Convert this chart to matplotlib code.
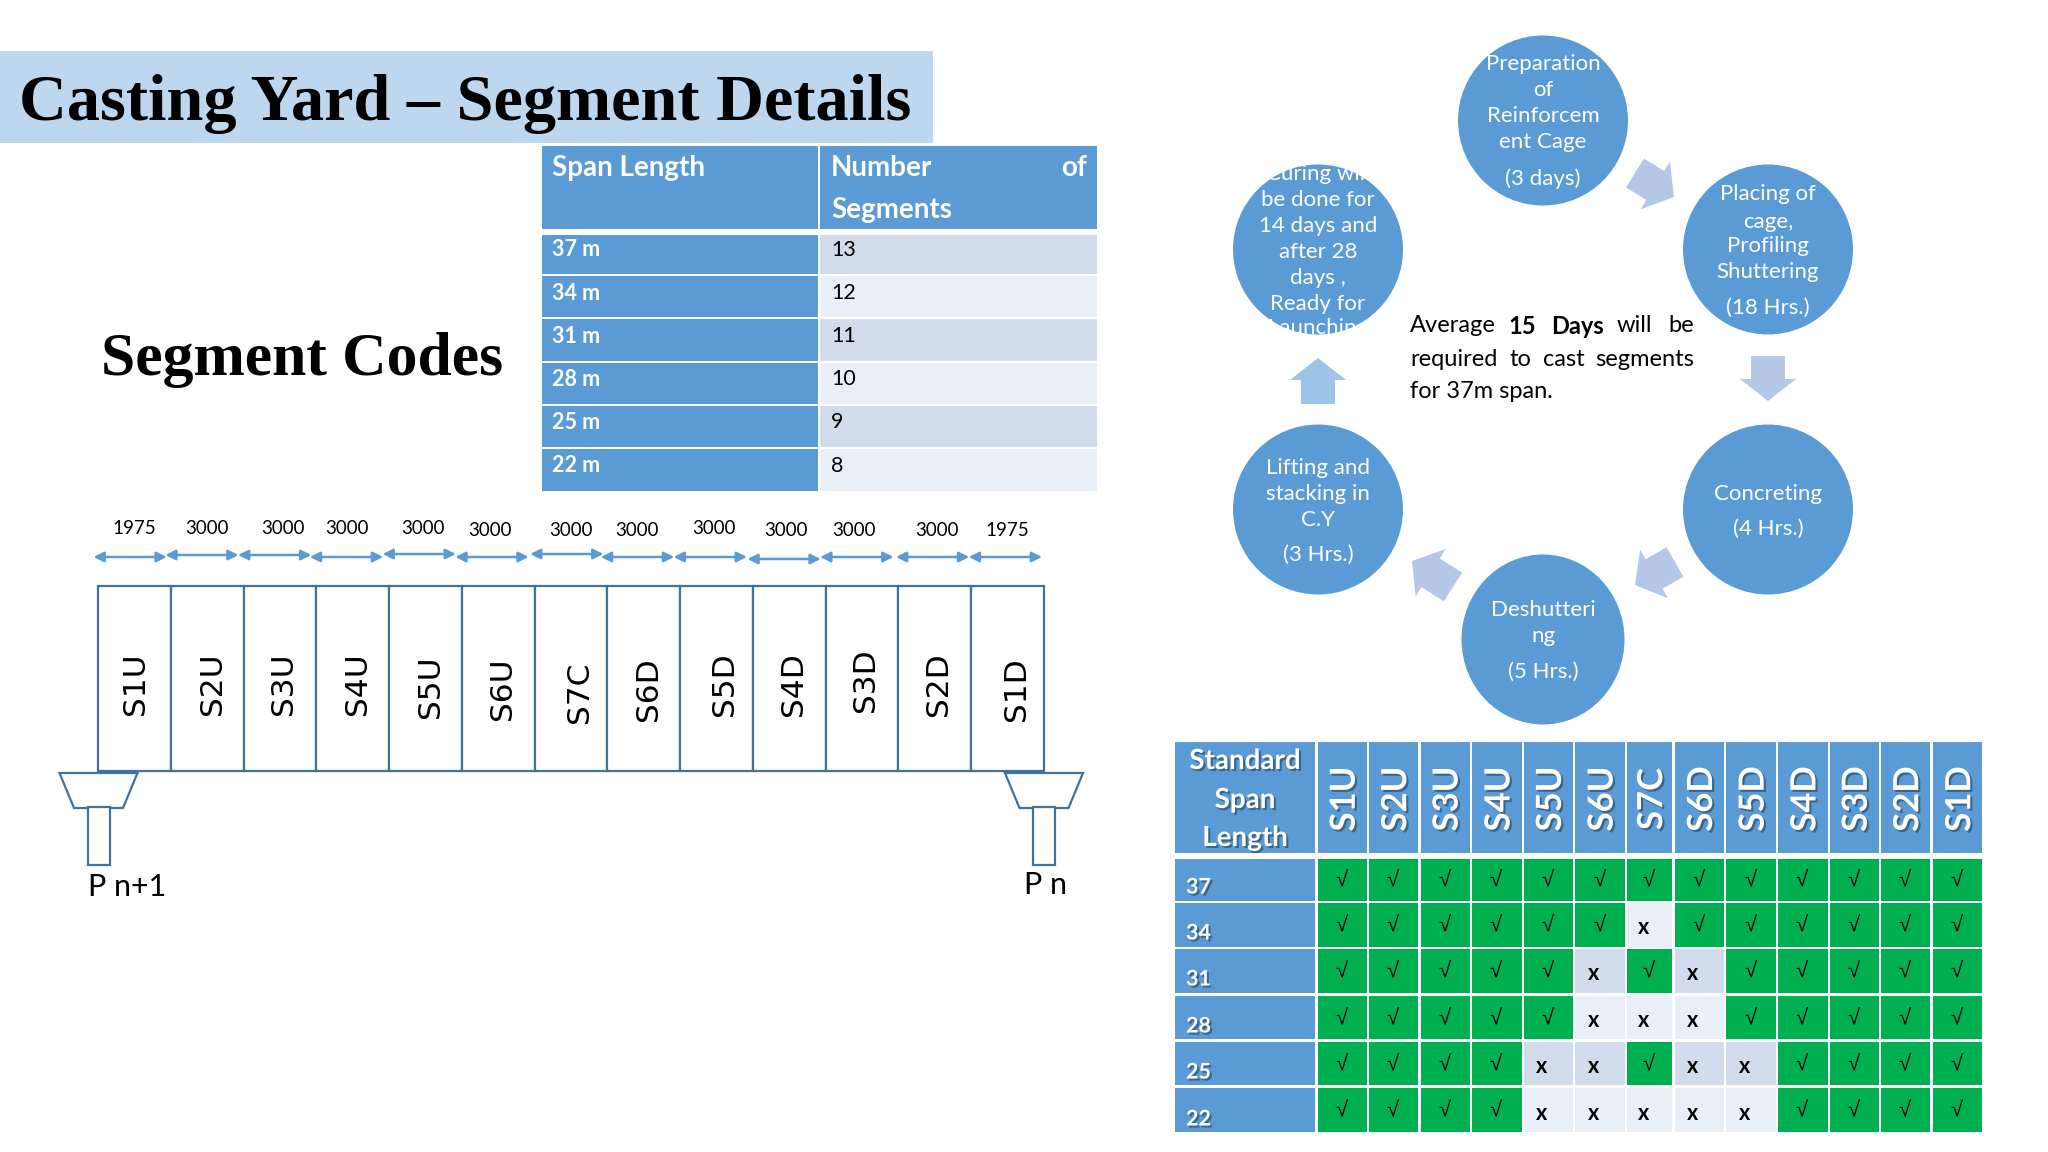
import numpy as np
import matplotlib
matplotlib.use('Agg')
import matplotlib.pyplot as plt
from matplotlib.patches import Rectangle, Ellipse, Polygon
import matplotlib.patheffects as pe

plt.rcParams['font.family'] = ['Lato', 'DejaVu Sans']

BLUE = '#5B9BD5'
DARK = '#41719C'
GREEN = '#00B050'
BAND = '#BDD7EE'
ROW_A = '#D0DCEB'
ROW_B = '#E9EFF7'
SERIF = 'Liberation Serif'

# span table
spans = ['37 m', '34 m', '31 m', '28 m', '25 m', '22 m']
counts = ['13', '12', '11', '10', '9', '8']

# segment elevation
segments = ['S1U', 'S2U', 'S3U', 'S4U', 'S5U', 'S6U', 'S7C', 'S6D', 'S5D', 'S4D', 'S3D', 'S2D', 'S1D']
lengths = [1975, 3000, 3000, 3000, 3000, 3000, 3000, 3000, 3000, 3000, 3000, 3000, 1975]

# which segment is used for which span, v = yes, x = no
std_spans = ['37', '34', '31', '28', '25', '22']
use_37 = 'vvvvvvvvvvvvv'
use_34 = 'vvvvvvxvvvvvv'
use_31 = 'vvvvvxvxvvvvv'
use_28 = 'vvvvvxxxvvvvv'
use_25 = 'vvvvxxvxxvvvv'
use_22 = 'vvvvxxxxxvvvv'

fig = plt.figure(figsize=(20.48, 11.52), dpi=100)
ax = fig.add_axes([0, 0, 1, 1])
ax.set_xlim(0, 2048)
ax.set_ylim(1152, 0)
ax.axis('off')


def box(x0, y0, x1, y1, color, **kw):
    ax.add_patch(Rectangle((x0, y0), x1 - x0, y1 - y0, facecolor=color, edgecolor='none', **kw))


def label(x, y, s, size, color='black', ha='center', va='center', **kw):
    return ax.text(x, y, s, fontsize=size, color=color, ha=ha, va=va, **kw)


# title
box(0, 51, 933, 143, BAND)
label(19, 120, 'Casting Yard \u2013 Segment Details', 47.7, ha='left', va='baseline', family=SERIF, weight='bold')
label(101, 375, 'Segment Codes', 44.4, ha='left', va='baseline', family=SERIF, weight='bold')

# span table
box(542, 146, 818, 229, BLUE)
box(820, 146, 1097, 229, BLUE)
label(552, 168, 'Span Length', 20, 'white', ha='left', weight='bold')
label(831, 168, 'Number', 20, 'white', ha='left', weight='bold')
label(1087, 168, 'of', 20, 'white', ha='right', weight='bold')
label(831, 210, 'Segments', 20, 'white', ha='left', weight='bold')
row_tops = [235, 276, 319, 363, 406, 449]
row_bots = [274, 317, 361, 404, 447, 491]
for i in range(6):
    box(542, row_tops[i], 818, row_bots[i], BLUE)
    box(820, row_tops[i], 1097, row_bots[i], ROW_A if i % 2 == 0 else ROW_B)
    label(552, 250 + 43.1 * i, spans[i], 15.5, 'white', ha='left', weight='bold')
    label(831, 250 + 43.1 * i, counts[i], 15.5, ha='left')

# segment elevation
seg_left = 98
seg_w = (1044 - 98) / 13
seg_top = 586
seg_bot = 771
text_dx = [1, 5, 4, 5, 5.5, 4, 8, 5, 8, 4.5, 3, 4, 9]
text_dy = [0, 0, 0, 0, 3, 5, 8, 5, 0, 0, -4, 0, 5]
dim_dx = [0, 0, 3, -6, -2, -8, 0, -7, -3, -3, -8, 2, 0]
dim_y = [529, 529, 529, 529, 529, 531, 530, 531, 529, 531, 531, 531, 531]
arrow_y = [557, 555, 555, 557, 554, 557, 554, 557, 557, 559, 557, 557, 557]
arrow_dx = [-2, -3, -3, -4, -4, -4, -2, -4, -4, -3, -3, 0, 0]
for i, seg in enumerate(segments):
    x0 = seg_left + i * seg_w
    ax.add_patch(Rectangle((x0, seg_top), seg_w, seg_bot - seg_top, facecolor='white', edgecolor=DARK, linewidth=1.6))
    label(x0 + seg_w / 2 + text_dx[i], 684 + text_dy[i], seg, 22.5, rotation=90, family='DejaVu Sans')
    label(x0 + seg_w / 2 + dim_dx[i], dim_y[i], str(lengths[i]), 13.5)
    ax.annotate('', xy=(x0 - 2.5 + arrow_dx[i], arrow_y[i]), xytext=(x0 + seg_w - 2 + arrow_dx[i], arrow_y[i]),
                arrowprops=dict(arrowstyle='<|-|>', color=BLUE, lw=1.8, mutation_scale=15, shrinkA=0, shrinkB=0))

# piers
for cx, name, lx, ly in [(98.5, 'P n+1', 127, 887), (1044, 'P n', 1045, 885)]:
    ax.add_patch(Polygon([(cx - 39, 773), (cx + 39, 773), (cx + 24.5, 808), (cx - 24.5, 808)],
                         facecolor='white', edgecolor=DARK, linewidth=1.6))
    ax.add_patch(Rectangle((cx - 11, 807), 22, 58, facecolor='white', edgecolor=DARK, linewidth=1.6))
    label(lx, ly, name, 22)

# cycle of casting activities
circles = [
    (1543, 120, 85, [('Preparation', 61), ('of', 87), ('Reinforcem', 113), ('ent Cage', 139), ('(3 days)', 176)]),
    (1768, 249, 85, [('Placing of', 192), ('cage,', 219), ('Profiling', 244), ('Shuttering', 270), ('(18 Hrs.)', 305)]),
    (1768, 509, 85, [('Concreting', 491), ('(4 Hrs.)', 526)]),
    (1543, 639, 81.5, [('Deshutteri', 607), ('ng', 634), ('(5 Hrs.)', 669)]),
    (1318, 509, 85, [('Lifting and', 465), ('stacking in', 491), ('C.Y', 517), ('(3 Hrs.)', 552)]),
    (1318, 249, 85, [('Curing will', 172), ('be done for', 198), ('14 days and', 224), ('after 28', 249),
                     ('days ,', 275), ('Ready for', 301), ('Launching', 326)]),
]
for cx, cy, rx, lines in circles:
    ax.add_patch(Ellipse((cx, cy + 0.5), rx * 2, 170, facecolor=BLUE, edgecolor='none'))
    for s, y in lines:
        label(cx, y + 2.5, s, 16, 'white')


def block_arrow(tail, tip, color):
    tail = np.array(tail, dtype=float)
    tip = np.array(tip, dtype=float)
    d = (tip - tail) / np.hypot(*(tip - tail))
    n = np.array([-d[1], d[0]])
    neck = tip - d * 22
    pts = [tail + n * 17, neck + n * 17, neck + n * 28, tip, neck - n * 28, neck - n * 17, tail - n * 17]
    ax.add_patch(Polygon(pts, facecolor=color, edgecolor='none'))


block_arrow((1635, 173), (1674, 197), '#B4C7E7')
block_arrow((1768, 356), (1768, 401), '#B4C7E7')
block_arrow((1675, 562), (1635, 585), '#B4C7E7')
block_arrow((1453, 587), (1412, 561), '#B4C7E7')
block_arrow((1318, 404), (1318, 358), '#9DC3E6')

# justified note in the middle, word by word
for x, y, s, w, ha in [
    (1410, 326, 'Average', 'normal', 'left'), (1508, 326, '15', 'bold', 'left'), (1551, 326, 'Days', 'bold', 'left'),
    (1617, 326, 'will', 'normal', 'left'), (1694, 326, 'be', 'normal', 'right'),
    (1410, 359, 'required', 'normal', 'left'), (1510, 359, 'to', 'normal', 'left'), (1543, 359, 'cast', 'normal', 'left'),
    (1694, 359, 'segments', 'normal', 'right'), (1410, 392, 'for 37m span.', 'normal', 'left'),
]:
    label(x, y, s, 17, ha=ha, weight=w)

# usage matrix
col_left = [1317.7, 1369.1, 1420.5, 1472.4, 1523.9, 1575.3, 1627.2, 1674.9, 1726.3, 1778.3, 1829.7, 1881.1, 1933.1]
col_right = [1366.9, 1418.4, 1469.8, 1521.7, 1573.1, 1625.1, 1672.2, 1724.2, 1776.1, 1827.6, 1879, 1930.4, 1982.4]
tab_top = [859, 903, 949, 996, 1042, 1088]
tab_bot = [901, 947, 993, 1039, 1085, 1132]
span_y = [887, 933, 979, 1026, 1072, 1119]
usage = [use_37, use_34, use_31, use_28, use_25, use_22]
shadow = [pe.withSimplePatchShadow(offset=(1.5, -1.5), alpha=0.35, shadow_rgbFace='black')]

box(1175, 742, 1315, 853, BLUE)
for s, y in [('Standard', 761), ('Span', 800), ('Length', 838)]:
    label(1245, y, s, 20, 'white', weight='bold', path_effects=shadow)
for j, seg in enumerate(segments):
    box(col_left[j], 742, col_right[j], 853, BLUE)
    label((col_left[j] + col_right[j]) / 2 + 2.5, 799, seg, 25, 'white', rotation=90, weight='bold', path_effects=shadow)
for i, row in enumerate(usage):
    box(1175, tab_top[i], 1315, tab_bot[i], BLUE)
    label(1186, span_y[i], std_spans[i], 15.5, 'white', ha='left', weight='bold', path_effects=shadow)
    for j, flag in enumerate(row):
        xm = (col_left[j] + col_right[j]) / 2
        ym = (tab_top[i] + tab_bot[i]) / 2
        if flag == 'v':
            box(col_left[j], tab_top[i], col_right[j], tab_bot[i], GREEN)
            label(xm - 1, ym + 1, '\u221a', 16, family='Liberation Sans')
        else:
            box(col_left[j], tab_top[i], col_right[j], tab_bot[i], ROW_A if i % 2 == 0 else ROW_B)
            label(xm - 6.5, ym + 3, 'x', 15.5, weight='bold')

fig.savefig('out.png', dpi=100)
